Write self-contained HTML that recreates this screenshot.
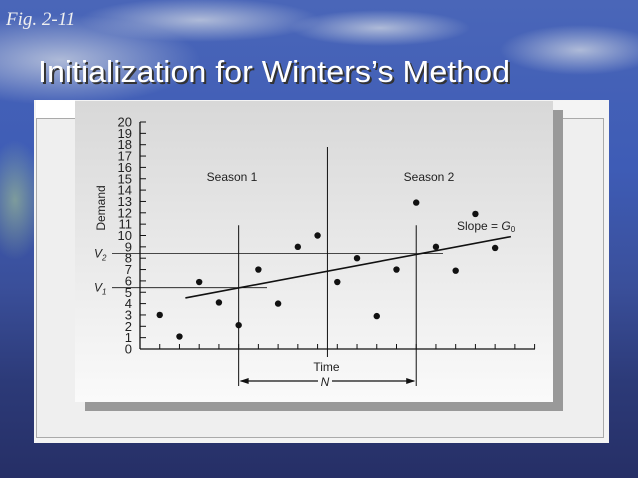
<!DOCTYPE html>
<html><head><meta charset="utf-8"><style>
html,body{margin:0;padding:0;width:638px;height:478px;overflow:hidden}
svg{display:block}
text{font-family:"Liberation Sans",sans-serif}
</style></head><body>
<svg width="638" height="478" viewBox="0 0 638 478">
<defs>
<linearGradient id="bg" x1="0" y1="0" x2="0" y2="1">
<stop offset="0" stop-color="#4a66b8"/><stop offset="0.35" stop-color="#3e5cb6"/><stop offset="0.6" stop-color="#3a4f9a"/><stop offset="0.8" stop-color="#2c3a78"/><stop offset="1" stop-color="#262f66"/>
</linearGradient>
<radialGradient id="cloud" cx="0.5" cy="0.5" r="0.5"><stop offset="0" stop-color="#c8d0e0" stop-opacity="0.8"/><stop offset="1" stop-color="#c8d0e0" stop-opacity="0"/></radialGradient>
<radialGradient id="green" cx="0.5" cy="0.5" r="0.5"><stop offset="0" stop-color="#a8c890" stop-opacity="0.6"/><stop offset="1" stop-color="#a8c890" stop-opacity="0"/></radialGradient>
<linearGradient id="panel" x1="0" y1="0" x2="0" y2="1"><stop offset="0" stop-color="#d8d8d8"/><stop offset="1" stop-color="#fafafa"/></linearGradient>
</defs>
<rect width="638" height="478" fill="url(#bg)"/>
<ellipse cx="60" cy="60" rx="140" ry="45" fill="url(#cloud)"/>
<ellipse cx="200" cy="20" rx="120" ry="22" fill="url(#cloud)"/>
<ellipse cx="380" cy="28" rx="90" ry="18" fill="url(#cloud)"/>
<ellipse cx="580" cy="50" rx="80" ry="25" fill="url(#cloud)"/>
<ellipse cx="15" cy="200" rx="30" ry="60" fill="url(#green)"/>
<text x="6" y="25" style="font-family:'Liberation Serif',serif;font-style:italic" font-size="19" fill="#f0f0f0">Fig. 2-11</text>
<text x="40" y="84" font-size="31" fill="#333" textLength="472" lengthAdjust="spacingAndGlyphs">Initialization for Winters’s Method</text>
<text x="38" y="82" font-size="31" fill="#fff" textLength="472" lengthAdjust="spacingAndGlyphs">Initialization for Winters’s Method</text>
<rect x="34" y="100" width="575" height="343" fill="#f4f4f4"/>
<rect x="36.5" y="118.5" width="567" height="319" fill="#efefef" stroke="#aaa"/>
<rect x="36" y="100" width="39" height="18" fill="#fff"/>
<rect x="85" y="110" width="478" height="301" fill="#999"/>
<rect x="75" y="101" width="478" height="301" fill="url(#panel)"/>
<g id="chart"></g>
</svg>
<script>
const yTicks=[0,1,2,3,4,5,6,7,8,9,10,11,12,13,14,15,16,17,18,19,20];
const periods=[1,2,3,4,5,6,7,8,9,10,11,12,13,14,15,16,17,18];
const demand=[3,1.1,5.9,4.1,2.1,7,4,9,10,5.9,8,2.9,7,12.9,9,6.9,11.9,8.9];
const levels=[5.4,8.4];
const trendStart=[2.3,4.5], trendEnd=[18.8,9.9];
const seasonBounds=[5,9.5,14];
const ns="http://www.w3.org/2000/svg";
const g=document.getElementById('chart');
const X=t=>140+19.73*t, Y=v=>349-11.35*v;
function el(tag,a,parent){const e=document.createElementNS(ns,tag);for(const k in a)e.setAttribute(k,a[k]);(parent||g).appendChild(e);return e;}
function line(x1,y1,x2,y2,w){return el('line',{x1,y1,x2,y2,stroke:'#111','stroke-width':w||1});}
let a=line(140,Y(0),535,Y(0),1.3);
a=line(140,Y(0),140,Y(20),1.3);
yTicks.forEach(v=>{line(140,Y(v),146,Y(v));const t=el('text',{x:132,y:Y(v)+4.5,'text-anchor':'end','font-size':13,fill:'#222'});t.textContent=v;

});
for(let i=1;i<=20;i++)line(X(i),Y(0),X(i),Y(0)-5);
let t=el('text',{x:0,y:0,'font-size':12,fill:'#222','text-anchor':'middle',transform:'translate(105,208) rotate(-90)'});t.textContent='Demand';


t=el('text',{x:X(9.5)-1,y:371,'font-size':12,fill:'#222','text-anchor':'middle'});t.textContent='Time';


a=line(X(seasonBounds[0]),Y(10.9),X(seasonBounds[0]),386);
a=line(X(seasonBounds[1]),Y(17.8),X(seasonBounds[1]),357);
a=line(X(seasonBounds[2]),Y(10.9),X(seasonBounds[2]),386);
t=el('text',{x:232,y:181,'font-size':12,fill:'#222','text-anchor':'middle'});t.textContent='Season 1';


t=el('text',{x:429,y:181,'font-size':12,fill:'#222','text-anchor':'middle'});t.textContent='Season 2';


a=line(112,Y(levels[0]),267,Y(levels[0]),0.8);
a=line(112,Y(levels[1]),443,Y(levels[1]),0.8);
[[levels[0],'1','v1-label'],[levels[1],'2','v2-label']].forEach(([v,s,n])=>{const tt=el('text',{x:94,y:Y(v)+4,'font-size':12,'font-style':'italic',fill:'#222'});tt.innerHTML='V<tspan font-size="8" dy="3">'+s+'</tspan>';

});
a=line(X(trendStart[0]),Y(trendStart[1]),X(trendEnd[0]),Y(trendEnd[1]),1.6);
t=el('text',{x:457,y:230,'font-size':12,fill:'#222'});t.innerHTML='Slope = <tspan font-style="italic">G</tspan><tspan font-size="8" dy="2">0</tspan>';


periods.forEach((p,i)=>{const c=el('circle',{cx:X(p),cy:Y(demand[i]),r:3.2,fill:'#111'});

});
const x1=X(seasonBounds[0]),x2=X(seasonBounds[2]);
line(x1+2,381,x2-2,381,1.3);
el('path',{d:`M${x1+1},381 l9,-3 v6 z M${x2-1},381 l-9,-3 v6 z`,fill:'#111'});
el('rect',{x:318,y:374,width:14,height:14,fill:'#f8f8f8'});
t=el('text',{x:325,y:386,'font-size':12,'font-style':'italic',fill:'#222','text-anchor':'middle'});t.textContent='N';


</script>
</body></html>
